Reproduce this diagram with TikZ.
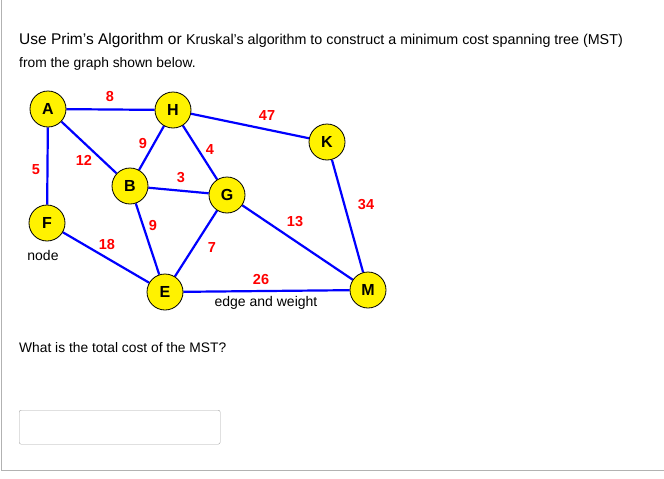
\documentclass[tikz,border=0pt]{standalone}
\usepackage{fontspec}
\setmainfont{Liberation Sans}
\usetikzlibrary{backgrounds}
\begin{document}
\begin{tikzpicture}[x=1pt,y=-1pt,
  nd/.style={circle,draw=black,fill=yellow,line width=0.8pt,minimum size=36pt,inner sep=0pt,font=\fontsize{16}{16}\selectfont\bfseries},
  ed/.style={draw=blue,line width=2.2pt},
  wt/.style={text=red,font=\fontsize{14.5}{15}\selectfont\bfseries,inner sep=0pt},
  lb/.style={font=\fontsize{14}{15}\selectfont,inner sep=0pt}]
\useasboundingbox (0,0) rectangle (664,479);
\draw[gray!60,line width=0.8pt] (1,0) -- (1,470) -- (664,470);
\node[anchor=base west,inner sep=0pt,font=\fontsize{15.5}{17}\selectfont] (t1) at (19,44) {Use Prim's Algorithm or {\fontsize{14.3}{16}\selectfont Kruskal's algorithm to construct a minimum cost spanning tree (MST)}};
\node[anchor=base west,inner sep=0pt,font=\fontsize{13.8}{16}\selectfont] (t2) at (19,67) {from the graph shown below.};
\node[anchor=base west,inner sep=0pt,font=\fontsize{13.8}{16}\selectfont] (t3) at (19,352) {What is the total cost of the MST?};
\node[draw=gray!70,rounded corners=2pt,minimum width=201pt,minimum height=34pt,inner sep=0pt,anchor=north west] (box) at (19,410) {};
\node[nd] (A) at (48,109) {A};
\node[nd] (H) at (173,110) {H};
\node[nd] (K) at (327,142) {K};
\node[nd] (B) at (130,186) {B};
\node[nd] (G) at (227,195) {G};
\node[nd] (F) at (47,223) {F};
\node[nd] (E) at (165,292) {E};
\node[nd] (M) at (368,290) {M};
\begin{scope}[on background layer]
\foreach \a/\b in {A/H,A/F,A/B,H/B,H/G,H/K,B/G,B/E,G/E,G/M,F/E,E/M,K/M}
  \draw[ed] (\a) -- (\b);
\end{scope}
\node[wt] (w1) at (110,97) {8};
\node[wt] (w2) at (143,144) {9};
\node[wt] (w3) at (84,160) {12};
\node[wt] (w4) at (36,170) {5};
\node[wt] (w5) at (181,178) {3};
\node[wt] (w6) at (210,150) {4};
\node[wt] (w7) at (267,116) {47};
\node[wt] (w8) at (366,205) {34};
\node[wt] (w9) at (295,222) {13};
\node[wt] (w10) at (153,226) {9};
\node[wt] (w11) at (212,248) {7};
\node[wt] (w12) at (107,245) {18};
\node[wt] (w13) at (261,280) {26};
\node[lb] (n1) at (43,255) {node};
\node[lb] (n2) at (266,303) {edge and weight};
\end{tikzpicture}
\end{document}
